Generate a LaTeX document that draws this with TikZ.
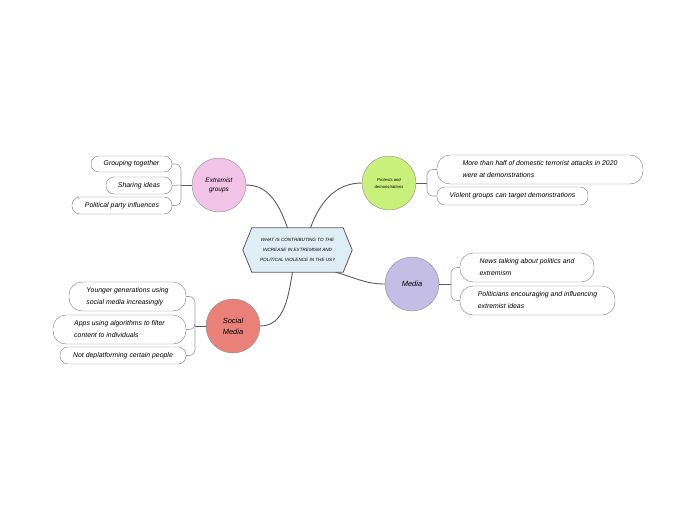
\documentclass[tikz,border=0pt]{standalone}
\usepackage{fontspec}
\newfontfamily\handfont{Liberation Sans}
\usetikzlibrary{calc}
\definecolor{MapLine}{HTML}{5A5A5A}
\definecolor{HubFill}{HTML}{DEEEF4}
\definecolor{ExtPink}{HTML}{F0C3E7}
\definecolor{ProtGreen}{HTML}{C8F07A}
\definecolor{MedLilac}{HTML}{C4BDE5}
\definecolor{SocSalmon}{HTML}{EA8179}
\tikzset{
  topic/.style={circle,draw=MapLine!70,minimum size=54pt,inner sep=1pt,align=center,
    font=\handfont\itshape\fontsize{6.5}{9}\selectfont},
  leaf/.style={draw=MapLine!80,fill=white,rounded corners=8pt,align=left,inner sep=0pt,
    font=\handfont\itshape\fontsize{6.9}{12}\selectfont},
  link/.style={MapLine,line width=0.9pt},
  twig/.style={MapLine!60,line width=0.6pt,rounded corners=6pt},
}

\begin{document}
\begin{tikzpicture}[x=1pt,y=-1pt]
  \useasboundingbox (0,0) rectangle (697,520);
  % centre topic
  \node[minimum width=109pt,minimum height=44pt,inner sep=0pt] (hub) at (297.5,250) {};
  \draw[MapLine,line width=0.8pt,fill=HubFill] (hub.west) -- ([xshift=9pt]hub.north west)
    -- ([xshift=-9pt]hub.north east) -- (hub.east) -- ([xshift=-9pt]hub.south east)
    -- ([xshift=9pt]hub.south west) -- cycle;
  \node[align=center,font=\handfont\itshape\fontsize{4.6}{10}\selectfont] at (hub.center)
    {\MakeUppercase{What is contributing to the}\\\MakeUppercase{increase in extremism and}\\\MakeUppercase{political violence in the US?}};

  % main topics
  \node[topic,fill=ExtPink] (eg) at (219,185) {Extremist\\groups};
  \node[topic,fill=ProtGreen,font=\handfont\itshape\fontsize{4.2}{7}\selectfont] (pd) at (389,183) {Protests and\\demonstrations};
  \node[topic,fill=MedLilac,font=\handfont\itshape\fontsize{7.5}{10}\selectfont] (med) at (412,284) {Media};
  \node[topic,fill=SocSalmon,font=\handfont\itshape\fontsize{7.5}{11}\selectfont] (sm) at (233,326) {Social\\Media};

  \draw[link] ([xshift=-10pt]hub.north) to[out=110,in=0] (eg.east);
  \draw[link] ([xshift=13pt]hub.north) to[out=70,in=180] (pd.west);
  \draw[link] ([xshift=38pt]hub.south) to[out=-15,in=180] (med.west);
  \draw[link] ([xshift=-5pt]hub.south) to[out=-100,in=0] (sm.east);

  % extremist groups
  \node[leaf,minimum width=81pt,minimum height=16pt] (eg1) at (131.5,164) {Grouping together};
  \node[leaf,minimum width=66pt,minimum height=17pt] (eg2) at (139,185.5) {Sharing ideas};
  \node[leaf,minimum width=100pt,minimum height=17pt] (eg3) at (122,205.5) {Political party influences};
  \coordinate (egj) at (181,185);
  \draw[link] (eg.west) -- (egj);
  \draw[twig] (egj) |- (eg1.east);
  \draw[twig] (egj) -- (eg2.east);
  \draw[twig] (egj) |- (eg3.east);

  % protests and demonstrations
  \node[leaf,rounded corners=13pt,minimum width=206pt,minimum height=29pt] (pd1) at (540,169.5)
    {More than half of domestic terrorist attacks in 2020\\were at demonstrations};
  \node[leaf,minimum width=151pt,minimum height=18pt] (pd2) at (512.5,196) {Violent groups can target demonstrations};
  \coordinate (pdj) at (427,183);
  \draw[link] (pd.east) -- (pdj);
  \draw[twig] (pdj) |- (pd1.west);
  \draw[twig] (pdj) |- (pd2.west);

  % media
  \node[leaf,rounded corners=13pt,minimum width=134pt,minimum height=29pt] (med1) at (527,267.5)
    {News talking about politics and\\extremism};
  \node[leaf,rounded corners=13pt,minimum width=155pt,minimum height=29pt] (med2) at (537.5,300.5)
    {Politicians encouraging and influencing\\extremist ideas};
  \coordinate (medj) at (451,284);
  \draw[link] (med.east) -- (medj);
  \draw[twig] (medj) |- (med1.west);
  \draw[twig] (medj) |- (med2.west);

  % social media
  \node[leaf,rounded corners=13pt,minimum width=117pt,minimum height=29pt] (sm1) at (127.5,296.5)
    {Younger generations using\\social media increasingly};
  \node[leaf,rounded corners=13pt,minimum width=133pt,minimum height=29pt] (sm2) at (119.5,329.5)
    {Apps using algorithms to filter\\content to individuals};
  \node[leaf,minimum width=126pt,minimum height=17pt] (sm3) at (123,355.5) {Not deplatforming certain people};
  \coordinate (smj) at (195,326);
  \draw[link] (sm.west) -- (smj);
  \draw[twig] (smj) |- (sm1.east);
  \draw[twig] (smj) |- (sm2.east);
  \draw[twig] (smj) |- (sm3.east);
\end{tikzpicture}
\end{document}
